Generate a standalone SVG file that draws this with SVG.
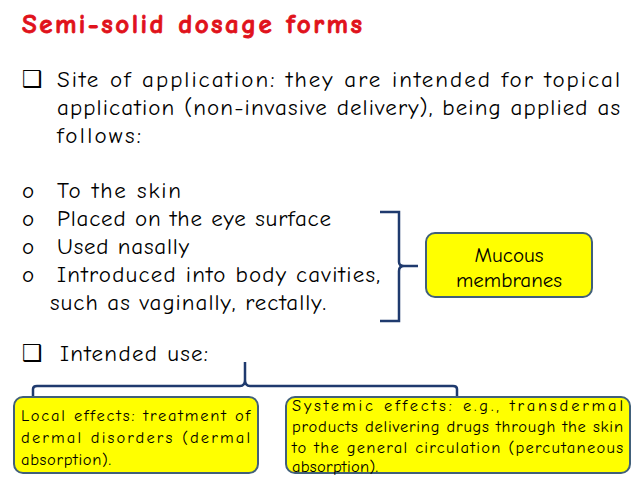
<svg xmlns="http://www.w3.org/2000/svg" width="638" height="478" viewBox="0 0 638 478">
<style>
text{font-family:"Comic Sans MS","Comic Neue","DejaVu Sans",sans-serif;fill:#000}
.b{font-size:23px}
.s{font-size:16.5px}
.box{fill:#ffff00;stroke:#41607a;stroke-width:2}
.br{fill:none;stroke:#1f3a6e;stroke-width:2.5}
</style>
<rect width="638" height="478" fill="#fff"/>
<text x="22" y="33" font-size="27" font-weight="bold" style="fill:#e0121b;stroke:#e0121b;stroke-width:0.8" textLength="340">Semi-solid dosage forms</text>
<g id="intro">
<text x="22" y="87" class="b">❑</text>
<text x="57" y="87" class="b" textLength="563">Site of application: they are intended for topical</text>
<text x="57" y="115" class="b" textLength="563">application (non-invasive delivery), being applied as</text>
<text x="57" y="143" class="b" textLength="84">follows:</text>
</g>
<g id="list">
<text x="22" y="198" class="b">o</text><text x="57" y="198" class="b" textLength="124">To the skin</text>
<text x="22" y="226" class="b">o</text><text x="57" y="226" class="b" textLength="274">Placed on the eye surface</text>
<text x="22" y="254" class="b">o</text><text x="57" y="254" class="b" textLength="132">Used nasally</text>
<text x="22" y="282" class="b">o</text><text x="57" y="282" class="b" textLength="323">Introduced into body cavities,</text>
<text x="50" y="310" class="b" textLength="276">such as vaginally, rectally.</text>
</g>
<g id="connectors">
<path class="br" d="M380 212 H399 V262 Q399 266 404 266 H418 M404 266 Q399 266 399 271 V321 H380"/>
<path class="br" d="M33 396 V389 Q33 386 37 386 H240 Q245 386 245 380 V362 M245 380 Q245 386 250 386 H453 Q457 386 457 389 V396"/>
</g>
<g id="mucous">
<rect class="box" x="426" y="233" width="166" height="64" rx="9"/>
<text x="509" y="262" font-size="21" text-anchor="middle">Mucous</text>
<text x="509" y="287" font-size="21" text-anchor="middle">membranes</text>
</g>
<g id="use">
<text x="22" y="361" class="b">❑</text>
<text x="60" y="361" class="b" textLength="148">Intended use:</text>
</g>
<g id="local">
<rect class="box" x="14" y="397" width="244" height="76" rx="9"/>
<text x="21" y="421" class="s" textLength="229">Local effects: treatment of</text>
<text x="21" y="443" class="s" textLength="229">dermal disorders (dermal</text>
<text x="21" y="465" class="s" textLength="90">absorption).</text>
</g>
<g id="systemic">
<rect class="box" x="286" y="397" width="344" height="76" rx="9"/>
<text x="292" y="411" class="s" textLength="331">Systemic effects: e.g., transdermal</text>
<text x="292" y="432" class="s" textLength="331">products delivering drugs through the skin</text>
<text x="292" y="453" class="s" textLength="331">to the general circulation (percutaneous</text>
<text x="292" y="472" class="s" textLength="86">absorption).</text>
</g>
</svg>
